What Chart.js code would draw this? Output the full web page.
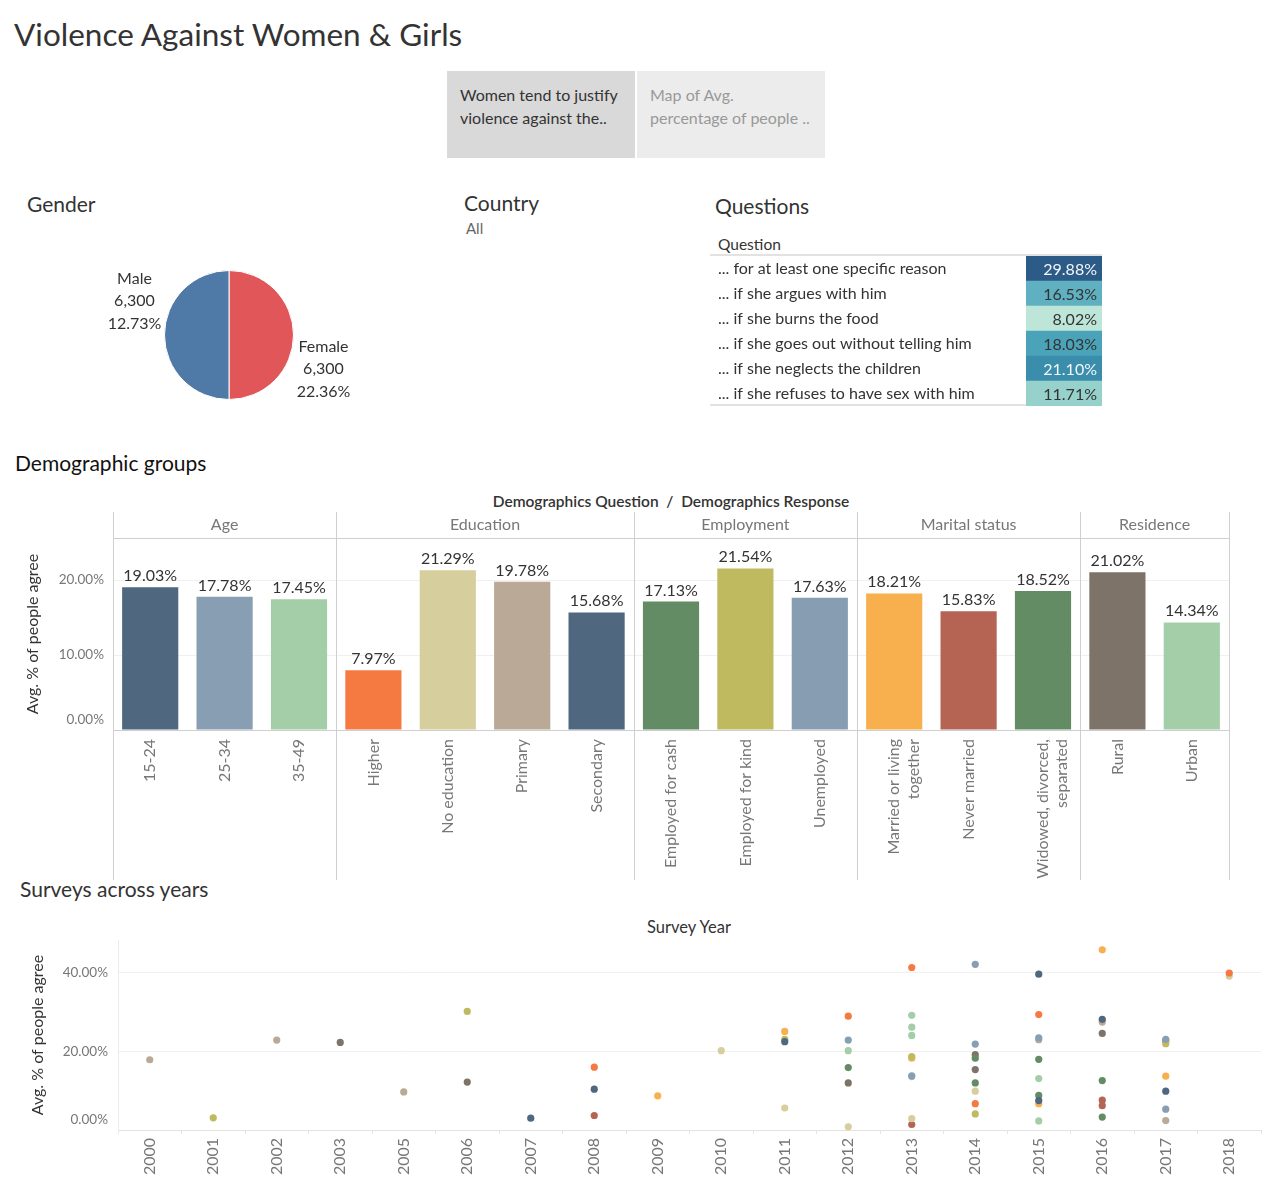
<!DOCTYPE html>
<html>
<head>
<meta charset="utf-8">
<script src="https://cdn.jsdelivr.net/npm/chart.js@4"></script>
<style>
body { margin: 0; background: #fff; font-family: Lato, "Noto Sans", sans-serif; color: #333; }
#page { position: relative; width: 1269px; height: 1204px; overflow: hidden; }
.abs { position: absolute; white-space: nowrap; }
.hd { font-size: 21px; line-height: 24px; color: #333; }
canvas { position: absolute; }
.tab { position: absolute; top: 71px; width: 175px; height: 75px; padding: 12px 0 0 13px; font-size: 16px; line-height: 23px; }
</style>
</head>
<body>
<div id="page">
  <div class="abs" style="left:14px;top:15px;font-size:31.5px;line-height:38px;color:#333;">Violence Against Women &amp; Girls</div>

  <div class="tab" style="left:447px;background:#d9d9d9;color:#333;">Women tend to justify<br>violence against the..</div>
  <div class="tab" style="left:637px;background:#ececec;color:#999;">Map of Avg.<br>percentage of people ..</div>

  <div class="abs hd" style="left:27px;top:192px;">Gender</div>
  <div class="abs hd" style="left:464px;top:191px;">Country</div>
  <div class="abs" style="left:466px;top:219px;font-size:15px;line-height:18px;color:#666;">All</div>
  <div class="abs hd" style="left:715px;top:194px;">Questions</div>
  <div class="abs" style="left:718px;top:235px;font-size:15.5px;line-height:18px;color:#333;">Question</div>
  <div class="abs" style="left:710px;top:254px;width:392px;height:2px;background:#e2e2e2;"></div>
  <div class="abs" style="left:710px;top:404px;width:392px;height:2px;background:#e2e2e2;"></div>

  <div class="abs hd" style="left:15px;top:451px;color:#111;">Demographic groups</div>
  <div class="abs" style="left:421px;top:492px;width:500px;text-align:center;font-size:15.5px;line-height:18px;color:#333;font-weight:600;">Demographics Question&nbsp; / &nbsp;Demographics Response</div>

  <div class="abs hd" style="left:20px;top:877px;">Surveys across years</div>
  <div class="abs" style="left:589px;top:918px;width:200px;text-align:center;font-size:16.5px;line-height:18px;color:#333;">Survey Year</div>

  <canvas id="pie" width="280" height="170" style="left:90px;top:250px;"></canvas>
  <canvas id="qtable" width="392" height="150" style="left:710px;top:256px;"></canvas>
  <canvas id="bars" width="1240" height="375" style="left:0;top:505px;"></canvas>
  <canvas id="years" width="1269" height="269" style="left:0;top:935px;"></canvas>
</div>

<script>
// ================= DATA =================
const genderLabels = ['Female', 'Male'];
const genderCounts = [6300, 6300];
const genderPct = [22.36, 12.73];

const questionLabels = [
  '... for at least one specific reason',
  '... if she argues with him',
  '... if she burns the food',
  '... if she goes out without telling him',
  '... if she neglects the children',
  '... if she refuses to have sex with him'
];
const questionValues = [29.88, 16.53, 8.02, 18.03, 21.10, 11.71];

const demoGroups = ['Age','Age','Age','Education','Education','Education','Education',
  'Employment','Employment','Employment','Marital status','Marital status','Marital status',
  'Residence','Residence'];
const demoLabels = ['15-24','25-34','35-49','Higher','No education','Primary','Secondary',
  'Employed for cash','Employed for kind','Unemployed',
  ['Married or living','together'],'Never married',['Widowed, divorced,','separated'],
  'Rural','Urban'];
const demoValues = [19.03, 17.78, 17.45, 7.97, 21.29, 19.78, 15.68, 17.13, 21.54, 17.63,
  18.21, 15.83, 18.52, 21.02, 14.34];

const surveyYears = ['2000','2001','2002','2003','2005','2006','2007','2008','2009','2010',
  '2011','2012','2013','2014','2015','2016','2017','2018'];

// points per colour group [year, avg %]
const sDarkBlue = [['2007',3.0],['2008',10.4],['2011',22.5],['2015',39.7],['2015',7.5],['2016',28.2],['2017',9.9]];
const sBlueGray = [['2012',22.9],['2013',13.8],['2014',42.2],['2014',21.9],['2015',23.5],['2017',23.1],['2017',5.3]];
const sLightGreen = [['2012',20.2],['2013',29.2],['2013',26.2],['2013',24.1],['2013',13.6],['2015',13.1],['2015',2.3]];
const sOrange = [['2008',16.0],['2012',29.0],['2013',41.4],['2014',6.7],['2015',29.4],['2018',40.0]];
const sKhaki = [['2010',20.2],['2011',5.6],['2012',0.8],['2013',2.9],['2014',9.9],['2018',39.2]];
const sTan = [['2000',17.9],['2002',22.9],['2005',9.7],['2015',23.0],['2016',27.5],['2017',2.4]];
const sGreen = [['2012',15.9],['2014',18.3],['2014',12.0],['2015',18.0],['2015',8.8],['2016',12.6],['2016',3.3]];
const sOlive = [['2001',3.1],['2006',30.2],['2011',23.1],['2013',18.7],['2014',4.1],['2017',22.0]];
const sAmber = [['2009',8.7],['2011',25.1],['2013',18.3],['2015',6.7],['2016',45.9],['2017',13.7]];
const sRed = [['2008',3.7],['2013',1.4],['2016',7.6],['2016',6.2],['2017',22.7]];
const sBrown = [['2003',22.3],['2006',12.2],['2012',12.0],['2014',19.2],['2014',15.4],['2016',24.6]];

// ================= STYLE =================
const FONT = 'Lato, "Noto Sans", sans-serif';
Chart.defaults.font.family = FONT;
Chart.defaults.animation = false;
Chart.defaults.responsive = false;
Chart.defaults.plugins.legend.display = false;
Chart.defaults.plugins.tooltip.enabled = false;

const barColors = ['#4f6880','#879eb3','#a3cea8','#f57a42','#d6ce9d','#b9a996','#4f6880',
  '#638c65','#bfba5f','#869db2','#f8af4d','#b56453','#638c65','#7e7369','#a3cea8'];

const scatterGroups = [
  [sDarkBlue, '#4f6880'], [sBlueGray, '#879eb3'], [sLightGreen, '#a3cea8'],
  [sOrange, '#f57a42'], [sKhaki, '#d6ce9d'], [sTan, '#b9a996'], [sGreen, '#638c65'],
  [sOlive, '#bfba5f'], [sAmber, '#f8af4d'], [sRed, '#b56453'], [sBrown, '#7e7369']
];

// blue-teal ramp for the highlight table
const ramp = [[8,[190,230,216]],[12,[147,207,203]],[16.5,[95,176,192]],[18,[74,163,185]],[21,[58,143,172]],[30,[44,90,136]]];
function cellColor(v) {
  for (let i = 1; i < ramp.length; i++) {
    if (v <= ramp[i][0] || i === ramp.length - 1) {
      const a = ramp[i-1], b = ramp[i];
      const t = Math.max(0, Math.min(1, (v - a[0]) / (b[0] - a[0])));
      const c = a[1].map((q, k) => Math.round(q + (b[1][k] - q) * t));
      return `rgb(${c[0]},${c[1]},${c[2]})`;
    }
  }
}

// ================= PIE =================
const pieLabels = {
  id: 'pieLabels',
  afterDraw(chart) {
    const ctx = chart.ctx;
    ctx.save();
    ctx.font = '16px ' + FONT;
    ctx.fillStyle = '#333';
    ctx.textAlign = 'center';
    ctx.textBaseline = 'middle';
    chart.getDatasetMeta(0).data.forEach((arc, i) => {
      const p = arc.getProps(['x','y','startAngle','endAngle','outerRadius'], true);
      const mid = (p.startAngle + p.endAngle) / 2;
      const side = Math.cos(mid) >= 0 ? 1 : -1;
      const cx = p.x + side * (p.outerRadius + 30);
      const cy = p.y + side * 34;
      const lines = [genderLabels[i], genderCounts[i].toLocaleString('en-US'), genderPct[i].toFixed(2) + '%'];
      lines.forEach((t, k) => ctx.fillText(t, cx, cy + (k - 1) * 22.5));
    });
    ctx.restore();
  }
};

new Chart(document.getElementById('pie'), {
  type: 'pie',
  data: { labels: genderLabels, datasets: [{ data: genderCounts, backgroundColor: ['#e15759', '#4f79a7'], borderWidth: 1, borderColor: '#fff' }] },
  options: { layout: { padding: { top: 20, bottom: 20, right: 2 } } },
  plugins: [pieLabels]
});

// ================= QUESTIONS TABLE =================
const cellText = {
  id: 'cellText',
  afterDatasetsDraw(chart) {
    const ctx = chart.ctx;
    ctx.save();
    ctx.font = '16px ' + FONT;
    ctx.textAlign = 'right';
    ctx.textBaseline = 'middle';
    chart.getDatasetMeta(0).data.forEach((bar, i) => {
      ctx.fillStyle = questionValues[i] > 20 ? '#f4f7fa' : '#333';
      ctx.fillText(questionValues[i].toFixed(2) + '%', bar.x - 5, bar.y + 1);
    });
    ctx.restore();
  }
};

new Chart(document.getElementById('qtable'), {
  type: 'bar',
  data: {
    labels: questionLabels,
    datasets: [{ data: questionValues.map(() => 1), backgroundColor: questionValues.map(cellColor),
      barPercentage: 1, categoryPercentage: 1 }]
  },
  options: {
    indexAxis: 'y',
    layout: { padding: { left: 8 } },
    scales: {
      x: { min: 0, max: 1, display: false },
      y: { grid: { display: false }, border: { display: false },
        ticks: { crossAlign: 'far', color: '#333', font: { size: 16 }, padding: 0 },
        afterFit(s) { s.width = 308; s.paddingTop = 0; s.paddingBottom = 0; } }
    }
  },
  plugins: [cellText]
});

// ================= DEMOGRAPHIC BARS =================
function drawYTicks(chart, right, zeroShift, step) {
  const ctx = chart.ctx, y = chart.scales.y;
  ctx.save();
  ctx.font = '13.5px ' + FONT;
  ctx.fillStyle = '#777';
  ctx.textAlign = 'right';
  ctx.textBaseline = 'middle';
  y.ticks.forEach(t => {
    if (Math.abs(t.value / step - Math.round(t.value / step)) > 1e-6) return;
    let py = y.getPixelForValue(t.value);
    if (t.value === y.min) py -= zeroShift;
    ctx.fillText(t.value.toFixed(2) + '%', right, py);
  });
  ctx.restore();
}
const stepGrid = step => ctx => (Math.abs(ctx.tick.value / step - Math.round(ctx.tick.value / step)) > 1e-6 ? 'rgba(0,0,0,0)' : '#f0f0f0');

const panels = {
  id: 'panels',
  afterDraw(chart) {
    const { ctx, chartArea: { top, left, right }, scales: { x } } = chart;
    const hdrTop = top - 26;
    // panel edges from the category scale
    const names = [], edges = [left];
    demoGroups.forEach((g, i) => {
      if (i === 0 || g !== demoGroups[i-1]) {
        names.push(g);
        if (i > 0) edges.push((x.getPixelForValue(i - 1) + x.getPixelForValue(i)) / 2);
      }
    });
    edges.push(right);
    ctx.save();
    ctx.strokeStyle = '#cfcfcf';
    ctx.lineWidth = 1;
    edges.forEach(e => {
      const ex = Math.round(e) + 0.5;
      ctx.beginPath(); ctx.moveTo(ex, hdrTop); ctx.lineTo(ex, chart.height); ctx.stroke();
    });
    ctx.beginPath(); ctx.moveTo(left, top + 0.5); ctx.lineTo(right, top + 0.5); ctx.stroke();
    ctx.font = '16px ' + FONT;
    ctx.fillStyle = '#777';
    ctx.textAlign = 'center';
    ctx.textBaseline = 'middle';
    names.forEach((n, i) => ctx.fillText(n, (edges[i] + edges[i+1]) / 2, hdrTop + 13));
    // value labels
    ctx.fillStyle = '#333';
    ctx.textBaseline = 'alphabetic';
    chart.getDatasetMeta(0).data.forEach((bar, i) => {
      ctx.fillText(demoValues[i].toFixed(2) + '%', bar.x, bar.y - 6);
    });
    ctx.restore();
    drawYTicks(chart, left - 9, 10, 10);
  }
};

new Chart(document.getElementById('bars'), {
  type: 'bar',
  data: { labels: demoLabels, datasets: [{ data: demoValues, backgroundColor: barColors, barPercentage: 0.755, categoryPercentage: 1 }] },
  options: {
    layout: { padding: { top: 33, right: 11, left: 0, bottom: 0 } },
    scales: {
      x: { grid: { display: false }, border: { color: '#cfcfcf' },
        ticks: { minRotation: 90, maxRotation: 90, autoSkip: false, padding: 1, color: '#777', font: { size: 16 } },
        afterFit(s) { s.height = 150; } },
      y: { min: 0, max: 25.6, ticks: { stepSize: 10, display: false },
        grid: { color: stepGrid(10), drawTicks: false }, border: { display: false },
        title: { display: true, text: 'Avg. % of people agree', color: '#333', font: { size: 16 }, padding: { top: 23 } },
        afterFit(s) { s.width = 113; } }
    }
  },
  plugins: [panels]
});

// ================= SURVEYS ACROSS YEARS =================
const yearTicks = { id: 'yearTicks', afterDraw(chart) { drawYTicks(chart, chart.chartArea.left - 10, 10, 20); } };

new Chart(document.getElementById('years'), {
  type: 'line',
  data: {
    labels: surveyYears,
    datasets: scatterGroups.map(([pts, col]) => ({
      data: pts.map(p => ({ x: p[0], y: p[1] })),
      showLine: false, pointRadius: 3.6, pointHoverRadius: 3.6, pointBorderWidth: 0,
      pointBackgroundColor: col, borderColor: col, clip: false
    }))
  },
  options: {
    layout: { padding: { top: 5, right: 8, left: 0, bottom: 0 } },
    scales: {
      x: { offset: true, grid: { offset: true, drawOnChartArea: false, tickLength: 4, color: '#e6e6e6' },
        border: { color: '#e2e2e2' },
        ticks: { minRotation: 90, maxRotation: 90, autoSkip: false, padding: 4, color: '#777', font: { size: 16 } },
        afterFit(s) { s.height = 74; } },
      y: { min: 0, max: 48.4, ticks: { stepSize: 20, display: false },
        grid: { color: stepGrid(20), drawTicks: false }, border: { color: '#ebebeb' },
        title: { display: true, text: 'Avg. % of people agree', color: '#333', font: { size: 16 }, padding: { top: 28 } },
        afterFit(s) { s.width = 118; } }
    }
  },
  plugins: [yearTicks]
});
</script>
</body>
</html>
